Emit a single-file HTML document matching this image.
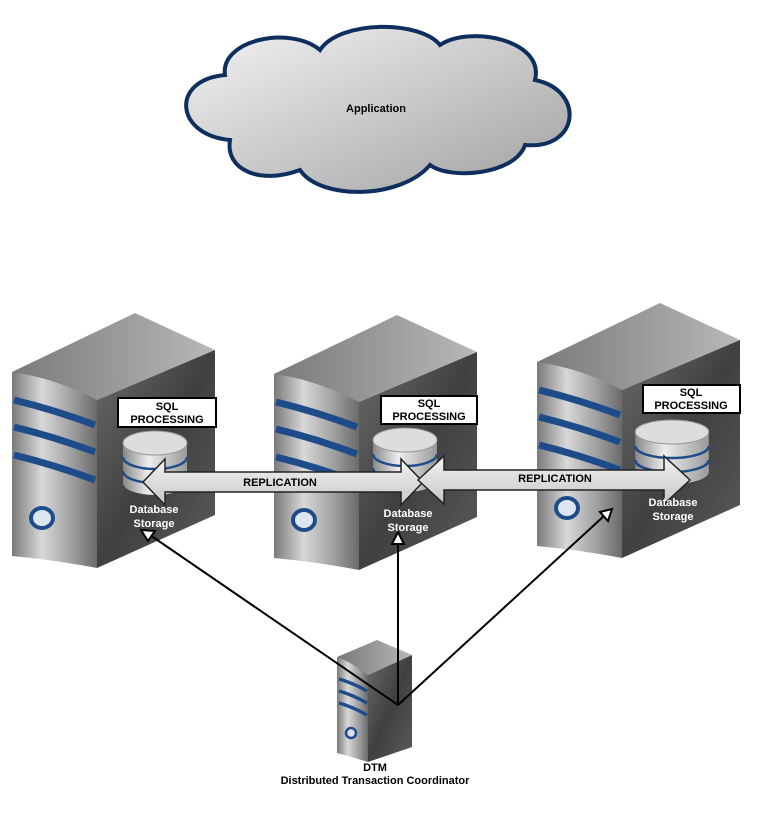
<!DOCTYPE html><html><head><style>body{margin:0;background:#fff}svg{display:block}text{font-family:"Liberation Sans",sans-serif;font-weight:bold}</style></head><body>
<svg width="760" height="814" viewBox="0 0 760 814" xmlns="http://www.w3.org/2000/svg">
<defs>
<linearGradient id="cl" x1="0" y1="0" x2="1" y2="1"><stop offset="0" stop-color="#f4f4f4"/><stop offset="1" stop-color="#a0a0a0"/></linearGradient>
<linearGradient id="fr" x1="0" y1="0" x2="1" y2="0"><stop offset="0" stop-color="#7a7a7a"/><stop offset=".35" stop-color="#d8d8d8"/><stop offset=".7" stop-color="#a0a0a0"/><stop offset="1" stop-color="#6a6a6a"/></linearGradient>
<linearGradient id="sd" x1="0" y1="0" x2="1" y2="1"><stop offset="0" stop-color="#6a6a6a"/><stop offset=".5" stop-color="#404040"/><stop offset="1" stop-color="#5a5a5a"/></linearGradient>
<linearGradient id="tp" x1="0" y1="0" x2="1" y2="0"><stop offset="0" stop-color="#7a7a7a"/><stop offset="1" stop-color="#b8b8b8"/></linearGradient>
<linearGradient id="cy" x1="0" y1="0" x2="1" y2="0"><stop offset="0" stop-color="#888"/><stop offset=".4" stop-color="#eee"/><stop offset="1" stop-color="#999"/></linearGradient>
<linearGradient id="ar" x1="0" y1="0" x2="0" y2="1"><stop offset="0" stop-color="#f2f2f2"/><stop offset="1" stop-color="#c8c8c8"/></linearGradient>
<g id="srv">
<path d="M12,372 L135,313 L215,350 L97,400 Z" fill="url(#tp)"/>
<path d="M97,400 L215,350 L215,515 L97,568 Z" fill="url(#sd)"/>
<path d="M12,372 Q55,378 97,400 L97,568 Q55,560 12,556 Z" fill="url(#fr)"/>
<path d="M14,400 Q55,410 95,425" stroke="#1e4c8a" stroke-width="7" fill="none"/>
<path d="M14,427 Q55,437 95,452" stroke="#1e4c8a" stroke-width="7" fill="none"/>
<path d="M14,455 Q55,465 95,480" stroke="#1e4c8a" stroke-width="7" fill="none"/>
<ellipse cx="42" cy="518" rx="11" ry="10" fill="#dde6f0" stroke="#1e4c8a" stroke-width="4"/>
</g>
<g id="cyl"><path d="M-32,0 L-32,40 A32,12 0 0 0 32,40 L32,0 Z" fill="url(#cy)"/>
<path d="M-32,14 A32,12 0 0 0 32,14 M-32,28 A32,12 0 0 0 32,28" stroke="#1e4c8a" stroke-width="2.5" fill="none"/>
<ellipse cx="0" cy="0" rx="32" ry="12" fill="#ddd" stroke="#999"/></g>
</defs>
<path d="M230,140 C175,135 170,80 225,75 C220,40 290,25 320,50 C340,20 420,20 440,45 C470,25 545,40 535,80 C585,90 580,150 525,145 C515,175 450,180 430,165 C400,200 320,200 300,170 C260,185 225,170 230,140 Z" fill="url(#cl)" stroke="#0d2e5e" stroke-width="4"/>
<text x="376" y="112" font-size="11" text-anchor="middle">Application</text>
<use href="#srv"/>
<use href="#srv" transform="translate(262,2)"/>
<use href="#srv" transform="translate(525,-10)"/>
<use href="#cyl" transform="translate(155,443)"/>
<use href="#cyl" transform="translate(405,440)"/>
<use href="#cyl" transform="translate(672,432) scale(1.15,1)"/>
<g font-size="11" text-anchor="middle">
<rect x="118" y="398" width="98" height="29" fill="#fff" stroke="#000" stroke-width="2"/><text x="167" y="410">SQL</text><text x="167" y="423">PROCESSING</text>
<rect x="381" y="396" width="96" height="28" fill="#fff" stroke="#000" stroke-width="2"/><text x="429" y="407">SQL</text><text x="429" y="420">PROCESSING</text>
<rect x="643" y="385" width="97" height="28" fill="#fff" stroke="#000" stroke-width="2"/><text x="691" y="396">SQL</text><text x="691" y="409">PROCESSING</text>
</g>
<path d="M143,482 L165,459 L165,472 L401,472 L401,459 L423,482 L401,505 L401,492 L165,492 L165,505 Z" fill="url(#ar)" stroke="#222" stroke-width="1.5"/>
<path d="M418,480 L444,456 L444,470 L664,470 L664,456 L690,480 L664,504 L664,490 L444,490 L444,504 Z" fill="url(#ar)" stroke="#222" stroke-width="1.5"/>
<g font-size="11" text-anchor="middle"><text x="280" y="486">REPLICATION</text><text x="555" y="482">REPLICATION</text></g>
<g font-size="11" text-anchor="middle" fill="#fff"><text x="154" y="513">Database</text><text x="154" y="527">Storage</text>
<text x="408" y="517">Database</text><text x="408" y="531">Storage</text>
<text x="673" y="506">Database</text><text x="673" y="520">Storage</text></g>
<g transform="translate(337,635)">
<path d="M0,22 L40,5 L75,20 L31,40 Z" fill="url(#tp)"/>
<path d="M31,40 L75,20 L75,112 L31,127 Z" fill="url(#sd)"/>
<path d="M0,22 Q16,28 31,40 L31,127 Q15,122 0,118 Z" fill="url(#fr)"/>
<path d="M2,44 Q16,48 30,56 M2,56 Q16,60 30,68 M2,68 Q16,72 30,80" stroke="#1e4c8a" stroke-width="3.5" fill="none"/>
<ellipse cx="14" cy="98" rx="5" ry="5" fill="#dde" stroke="#1e4c8a" stroke-width="2.5"/>
</g>
<g stroke="#000" stroke-width="2" fill="none"><path d="M398,705 L150,535 M398,705 L398,542 M398,705 L604,516"/></g>
<g stroke="#000" stroke-width="2" fill="#fff">
<path d="M141,530 L155,531 L148,541 Z"/><path d="M398,532 L404,544 L392,544 Z"/><path d="M612,509 L608,521 L600,512 Z"/></g>
<g font-size="11" text-anchor="middle"><text x="375" y="771">DTM</text><text x="375" y="784">Distributed Transaction Coordinator</text></g>
</svg></body></html>
